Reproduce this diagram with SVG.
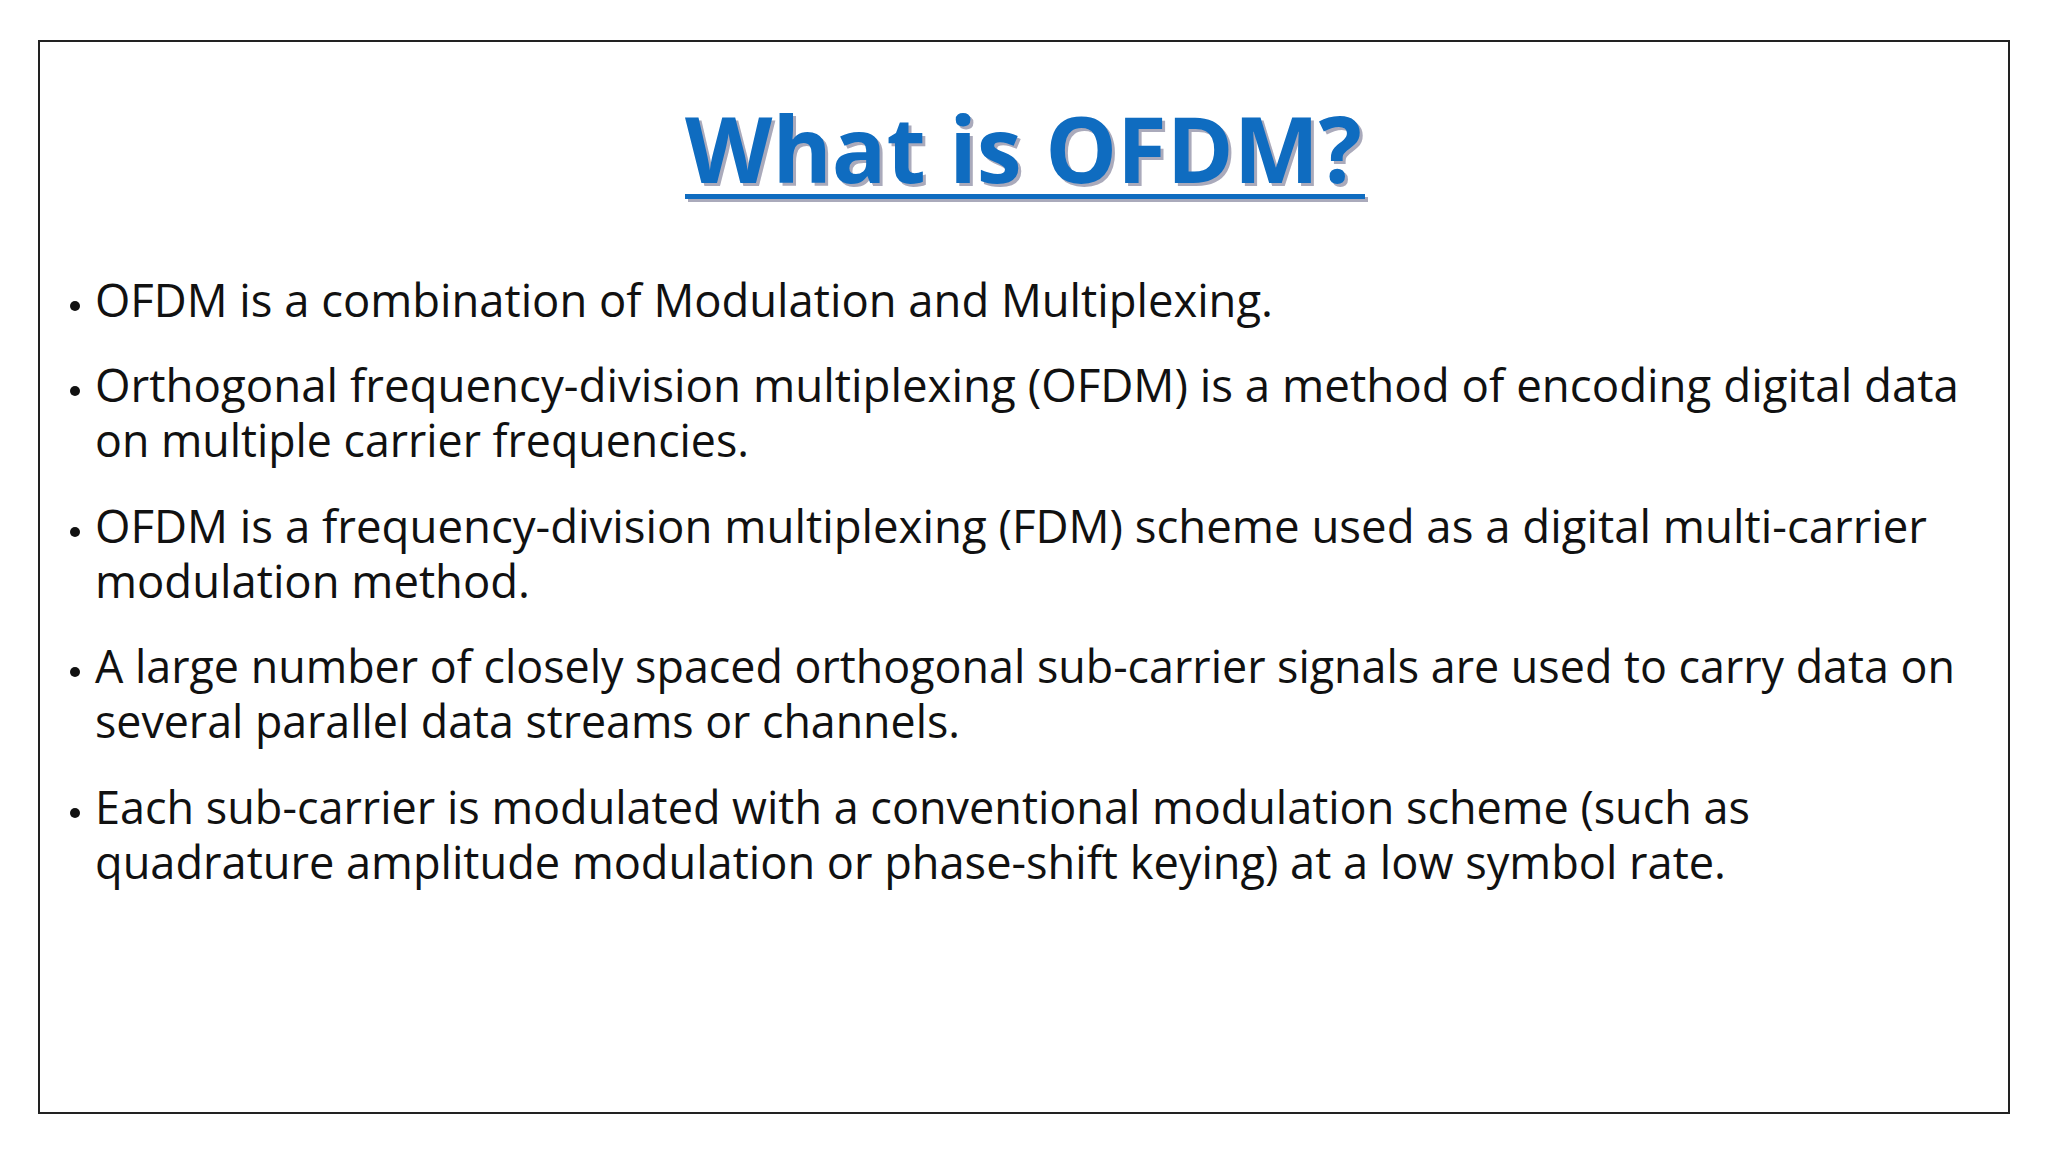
<svg xmlns="http://www.w3.org/2000/svg" width="2048" height="1152" viewBox="0 0 2048 1152">
<style>
.b{font-family:"Open Sans","Liberation Sans",sans-serif;font-size:45px;fill:#111}
.t{font-family:"Open Sans","Liberation Sans",sans-serif;font-size:92px;font-weight:bold;fill:#0f6cc0}
</style>
<rect width="2048" height="1152" fill="#fff"/>
<rect x="39" y="41" width="1970" height="1072" fill="none" stroke="#222" stroke-width="2"/>
<g id="title">
<text x="688" y="186" class="t" fill="#999" style="fill:#aab" textLength="677" lengthAdjust="spacingAndGlyphs">What is OFDM?</text>
<text x="685" y="183" class="t" textLength="677" lengthAdjust="spacingAndGlyphs">What is OFDM?</text>
<rect x="688" y="197" width="680" height="5" fill="#aab"/>
<rect x="685" y="194" width="680" height="5" fill="#0f6cc0"/>
</g>
<g id="bullets">
<g class="b">
<circle cx="75" cy="306" r="5" fill="#111"/>
<text x="95" y="317" textLength="1178" lengthAdjust="spacingAndGlyphs">OFDM is a combination of Modulation and Multiplexing.</text>
<circle cx="75" cy="391" r="5" fill="#111"/>
<text x="95" y="402" textLength="1864" lengthAdjust="spacingAndGlyphs">Orthogonal frequency-division multiplexing (OFDM) is a method of encoding digital data</text>
<text x="95" y="457" textLength="654" lengthAdjust="spacingAndGlyphs">on multiple carrier frequencies.</text>
<circle cx="75" cy="532" r="5" fill="#111"/>
<text x="95" y="543" textLength="1832" lengthAdjust="spacingAndGlyphs">OFDM is a frequency-division multiplexing (FDM) scheme used as a digital multi-carrier</text>
<text x="95" y="598" textLength="435" lengthAdjust="spacingAndGlyphs">modulation method.</text>
<circle cx="75" cy="672" r="5" fill="#111"/>
<text x="95" y="683" textLength="1860" lengthAdjust="spacingAndGlyphs">A large number of closely spaced orthogonal sub-carrier signals are used to carry data on</text>
<text x="95" y="738" textLength="865" lengthAdjust="spacingAndGlyphs">several parallel data streams or channels.</text>
<circle cx="75" cy="813" r="5" fill="#111"/>
<text x="95" y="824" textLength="1655" lengthAdjust="spacingAndGlyphs">Each sub-carrier is modulated with a conventional modulation scheme (such as</text>
<text x="95" y="879" textLength="1631" lengthAdjust="spacingAndGlyphs">quadrature amplitude modulation or phase-shift keying) at a low symbol rate.</text>
</g>
</g>
</svg>
